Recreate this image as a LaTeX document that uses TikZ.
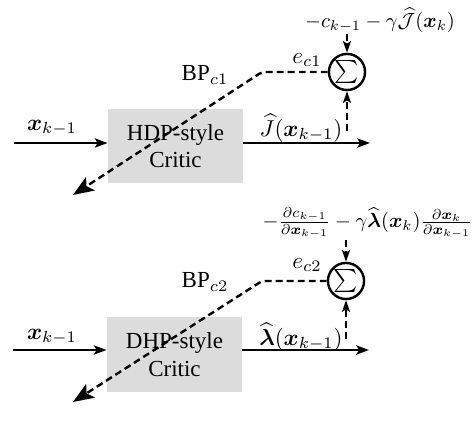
\documentclass[tikz,border=0pt]{standalone}
\usepackage{amsmath,amssymb,bm}
\usepackage{fontspec}
\setmainfont{Liberation Serif}
\usetikzlibrary{arrows.meta}
\definecolor{boxgray}{RGB}{220,220,220}
\tikzset{
  critic/.style={draw=none, fill=boxgray, minimum width=58.7pt, minimum height=32.2pt, align=center, inner sep=0pt},
  sumnode/.style={circle, draw, line width=1.05pt, minimum size=15.7pt, inner sep=0pt},
  sig/.style={line width=1.05pt, -{Stealth[length=5.5pt,width=4pt,inset=1.2pt]}},
  fb/.style={line width=1.05pt, dash pattern=on 3pt off 1.8pt, -{Stealth[length=5pt,width=3.4pt,inset=1pt]}},
  bp/.style={line width=1.05pt, dash pattern=on 3pt off 1.8pt, rounded corners=1.5pt, -{Stealth[length=9pt,width=7pt,inset=2pt]}},
  lbl/.style={inner sep=0pt},
  toplbl/.style={inner sep=0pt, scale=0.89}
}
\begin{document}
\begin{tikzpicture}[x=0.435pt,y=-0.435pt]
\useasboundingbox (0,0) rectangle (474,431);
% ---------- HDP ----------
\node[critic] (c1) at (175.5,146) {HDP-style\\Critic};
\node[sumnode] (s1) at (347,72) {$\sum$};
\node[toplbl] (t1) at (380,20) {$-c_{k-1}-\gamma\widehat{\mathcal{J}}(\boldsymbol{x}_k)$};
\node[lbl] (x1) at (52,128) {$\boldsymbol{x}_{k-1}$};
\node[lbl] (j1) at (301,128) {$\widehat{J}(\boldsymbol{x}_{k-1})$};
\node[lbl] (e1) at (307,60) {$e_{c1}$};
\node[lbl] (b1) at (205,75) {BP$_{c1}$};
\coordinate (in1) at (14,143);
\coordinate (out1) at (370,143);
\coordinate (up1) at (347,131);
\coordinate (dn1) at (347,34);
\coordinate (k1) at (262,72);
\coordinate (tip1) at (73,195);
\draw[sig] (in1) -- (in1 -| c1.west);
\draw[sig] (out1 -| c1.east) -- (out1);
\draw[fb] (up1) -- (s1.south);
\draw[fb] (dn1) -- (s1.north);
\draw[bp] (s1.west) -- (k1) -- (tip1);
% ---------- DHP ----------
\node[critic] (c2) at (174.5,354.5) {DHP-style\\Critic};
\node[sumnode] (s2) at (346,281) {$\sum$};
\node[toplbl, anchor=east] (t2) at (473,223) {$-\frac{\partial c_{k-1}}{\partial \boldsymbol{x}_{k-1}}-\gamma\widehat{\boldsymbol{\lambda}}(\boldsymbol{x}_k)\frac{\partial \boldsymbol{x}_k}{\partial \boldsymbol{x}_{k-1}}$};
\node[lbl] (x2) at (52,337) {$\boldsymbol{x}_{k-1}$};
\node[lbl] (l2) at (301,337) {$\widehat{\boldsymbol{\lambda}}(\boldsymbol{x}_{k-1})$};
\node[lbl] (e2) at (307,265) {$e_{c2}$};
\node[lbl] (b2) at (205,282) {BP$_{c2}$};
\coordinate (in2) at (13,350);
\coordinate (out2) at (369,350);
\coordinate (up2) at (346,339);
\coordinate (dn2) at (346,240);
\coordinate (k2) at (262,281);
\coordinate (tip2) at (73,402);
\draw[sig] (in2) -- (in2 -| c2.west);
\draw[sig] (out2 -| c2.east) -- (out2);
\draw[fb] (up2) -- (s2.south);
\draw[fb] (dn2) -- (s2.north);
\draw[bp] (s2.west) -- (k2) -- (tip2);
\end{tikzpicture}
\end{document}
